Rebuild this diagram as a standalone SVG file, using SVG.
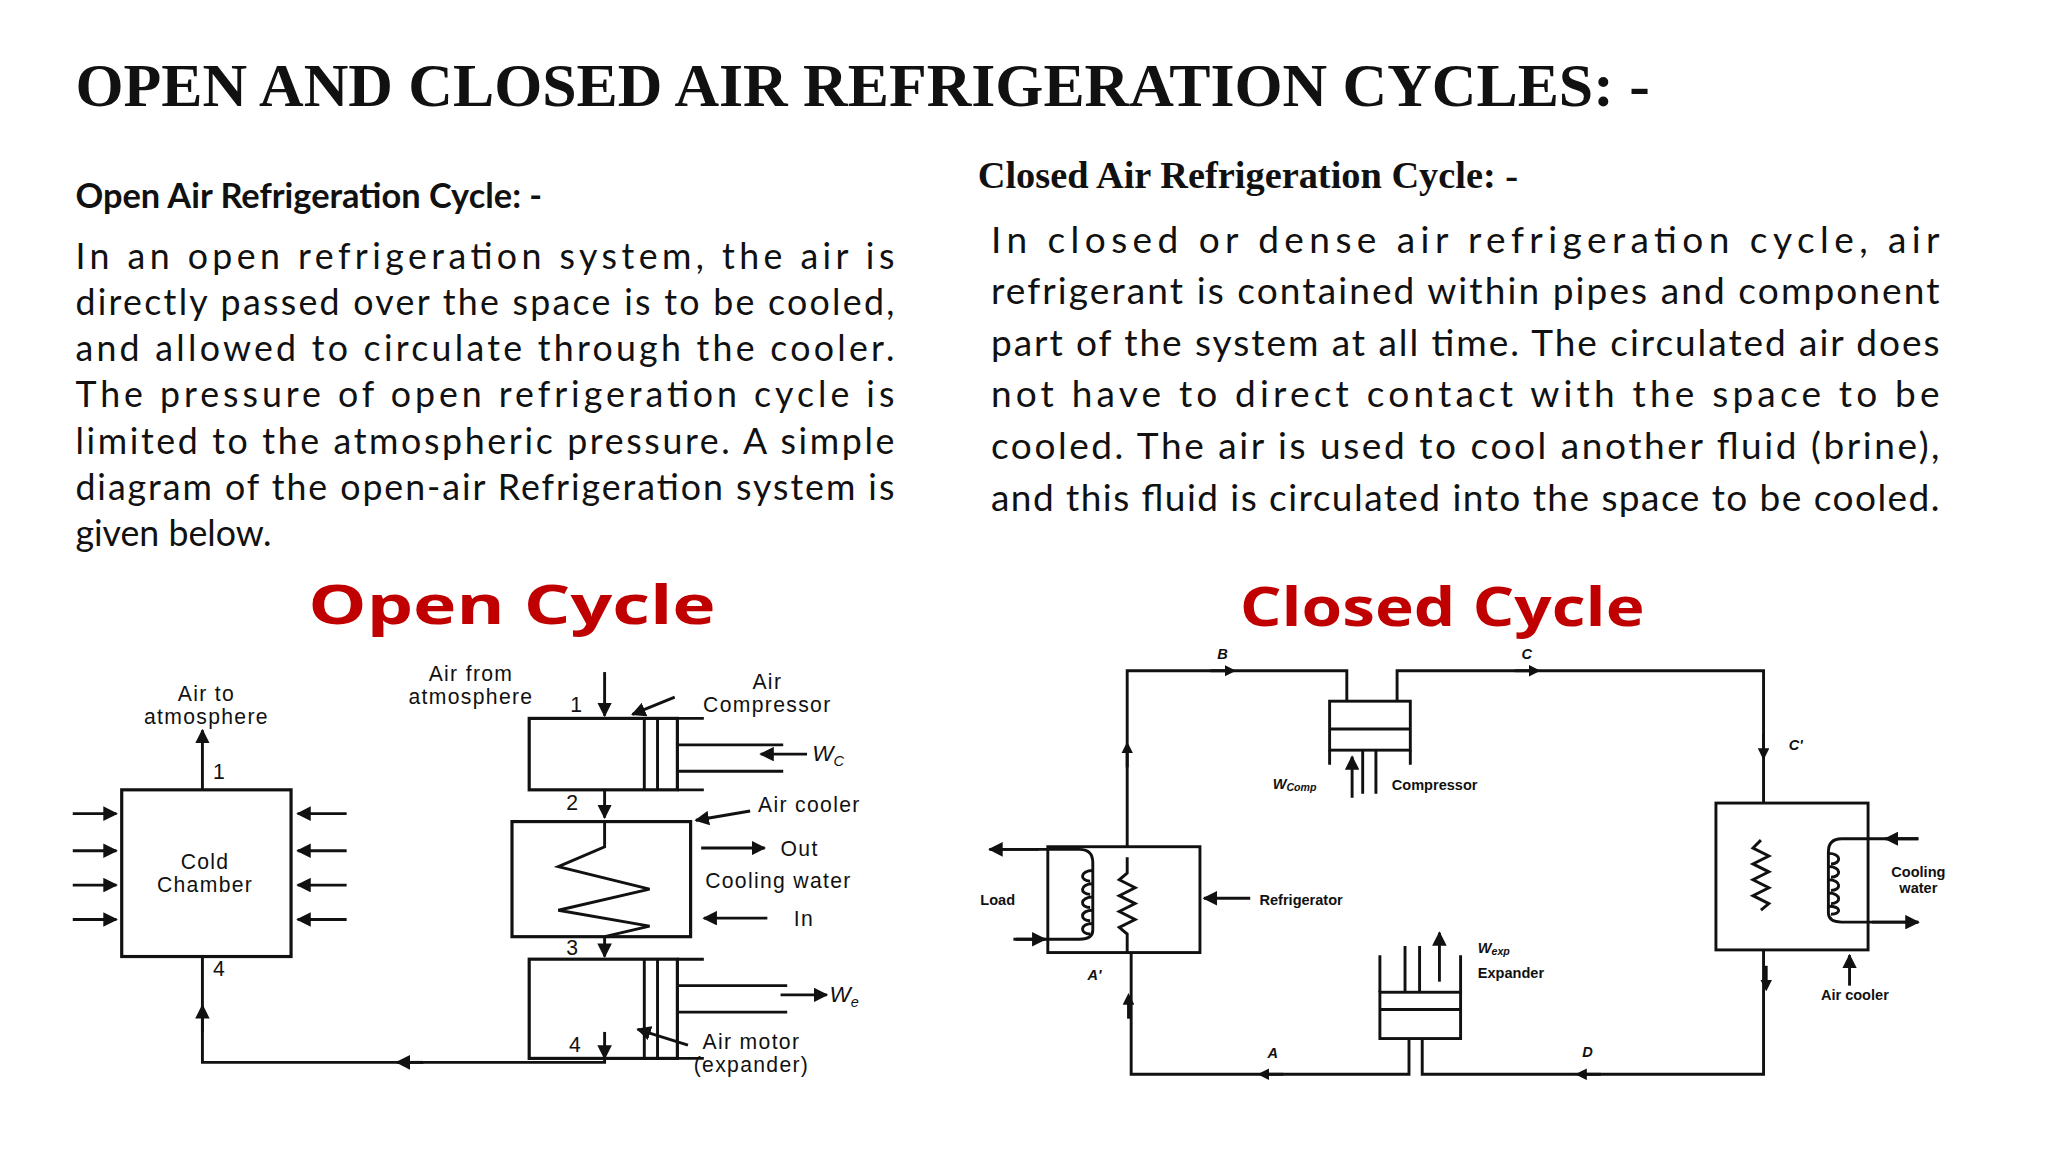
<svg xmlns="http://www.w3.org/2000/svg" width="2048" height="1152" viewBox="0 0 2048 1152">
<defs>
<style>
.ln{stroke:#111;stroke-width:2.2;fill:none}
.bx{stroke:#111;stroke-width:2.4;fill:none}
.t{font-family:"Liberation Sans",Arial,sans-serif;fill:#111}
.d{font-family:"Liberation Sans",Arial,sans-serif;font-size:16px;fill:#111;letter-spacing:1px}
.s{font-family:"Liberation Sans",Arial,sans-serif;font-size:11px;font-weight:bold;fill:#111}
.p{font-family:Lato,"Liberation Sans",sans-serif;font-size:27px;fill:#111}
.red{font-family:"Open Sans","Liberation Sans",sans-serif;font-weight:bold;fill:#c00000;font-size:40px}
</style>
<marker id="ah" viewBox="0 0 10 10" refX="9" refY="5" markerWidth="5" markerHeight="5" orient="auto"><path d="M0,0L10,5L0,10z" fill="#111"/></marker>
<marker id="mid" viewBox="0 0 10 10" refX="5" refY="5" markerWidth="4" markerHeight="4" orient="auto"><path d="M0,0L10,5L0,10z" fill="#111"/></marker>
</defs>
<rect width="2048" height="1152" fill="#fff"/>
<g transform="scale(1.323)">
<g id="texts">
<text x="57" y="80" font-family="Liberation Serif,serif" font-weight="bold" font-size="46" textLength="1190" lengthAdjust="spacingAndGlyphs" fill="#111">OPEN AND CLOSED AIR REFRIGERATION CYCLES: -</text>
<text x="57" y="157" font-family="Lato,Liberation Sans,sans-serif" font-weight="bold" font-size="26" fill="#111">Open Air Refrigeration Cycle: -</text>
<g class="p">
<text x="57" y="203" textLength="619">In an open refrigeration system, the air is</text>
<text x="57" y="238" textLength="619">directly passed over the space is to be cooled,</text>
<text x="57" y="273" textLength="619">and allowed to circulate through the cooler.</text>
<text x="57" y="308" textLength="619">The pressure of open refrigeration cycle is</text>
<text x="57" y="343" textLength="619">limited to the atmospheric pressure. A simple</text>
<text x="57" y="378" textLength="619">diagram of the open-air Refrigeration system is</text>
<text x="57" y="413">given below.</text>
</g>
<text x="739" y="142" font-family="Liberation Serif,serif" font-weight="bold" font-size="29" fill="#111">Closed Air Refrigeration Cycle: -</text>
<g class="p" style="font-size:28px">
<text x="749" y="191" textLength="717">In closed or dense air refrigeration cycle, air</text>
<text x="749" y="230" textLength="717">refrigerant is contained within pipes and component</text>
<text x="749" y="269" textLength="717">part of the system at all time. The circulated air does</text>
<text x="749" y="308" textLength="717">not have to direct contact with the space to be</text>
<text x="749" y="347" textLength="717">cooled. The air is used to cool another fluid (brine),</text>
<text x="749" y="386" textLength="717">and this fluid is circulated into the space to be cooled.</text>
</g>
<text class="red" x="233" y="472" textLength="308" lengthAdjust="spacingAndGlyphs">Open Cycle</text>
<text class="red" x="937" y="473" textLength="306" lengthAdjust="spacingAndGlyphs">Closed Cycle</text>
</g>

<g id="cold-chamber">
<rect class="bx" x="92" y="597" width="128" height="126"/>
<text class="d" x="155" y="657" text-anchor="middle">Cold</text>
<text class="d" x="155" y="674" text-anchor="middle">Chamber</text>
<text class="d" x="156" y="530" text-anchor="middle">Air to</text>
<text class="d" x="156" y="547" text-anchor="middle">atmosphere</text>
<text class="d" x="161" y="589">1</text>
<text class="d" x="161" y="738">4</text>
</g>
<g id="compressor-open">
<rect class="bx" x="400" y="543" width="112" height="54"/>
<path class="ln" d="M512,543H532M512,597H532M487,543V597M497,543V597M512,563H592M512,583H592"/>
<text class="d" x="356" y="515" text-anchor="middle">Air from</text>
<text class="d" x="356" y="532" text-anchor="middle">atmosphere</text>
<text class="d" x="431" y="538">1</text>
<text class="d" x="580" y="521" text-anchor="middle">Air</text>
<text class="d" x="580" y="538" text-anchor="middle">Compressor</text>
<text x="614" y="575" class="t" font-size="17" font-style="italic">W<tspan font-size="11" dy="4">C</tspan></text>
</g>
<g id="air-cooler-open">
<rect class="bx" x="387" y="621" width="135" height="87"/>
<path class="ln" d="M457,621V640L422,655L491,672L422,688L491,700L457,708"/>
<text class="d" x="573" y="614">Air cooler</text>
<text class="d" x="590" y="647">Out</text>
<text class="d" x="533" y="671">Cooling water</text>
<text class="d" x="600" y="700">In</text>
<text class="d" x="428" y="612">2</text>
<text class="d" x="428" y="722">3</text>
</g>
<g id="expander-open">
<rect class="bx" x="400" y="725" width="112" height="75"/>
<path class="ln" d="M512,725H532M512,800H532M487,725V800M497,725V800M512,745H595M512,765H595"/>
<text x="627" y="757" class="t" font-size="17" font-style="italic">W<tspan font-size="11" dy="4">e</tspan></text>
<text class="d" x="568" y="793" text-anchor="middle">Air motor</text>
<text class="d" x="568" y="810" text-anchor="middle">(expander)</text>
<text class="d" x="430" y="795">4</text>
</g>

<g id="comp-closed">
<rect class="ln" x="1005" y="530" width="61" height="37"/>
<path class="ln" d="M1005,551H1066M1005,567V578M1066,567V578M1030,567V600M1040,567V600"/>
<text x="962" y="596" class="s" font-style="italic">W<tspan font-size="8" dy="2">Comp</tspan></text>
<text class="s" x="1052" y="597">Compressor</text>
</g>
<g id="refrigerator">
<rect class="ln" x="792" y="640" width="115" height="80"/>
<path class="ln" d="M852,648V660L846,665L858,671L846,677L858,683L846,689L858,695L846,701L852,706V720"/>
<path class="ln" d="M748,642H816Q826,642 826,652V703Q826,710 816,710H768"/>
<path class="ln" d="M826,658c-10,0-10,8-2,8M826,668c-10,0-10,8-2,8M826,678c-10,0-10,8-2,8M826,688c-10,0-10,8-2,8M826,698c-10,0-10,8-2,8"/>
<text class="s" x="741" y="684">Load</text>
<text class="s" x="952" y="684">Refrigerator</text>
<text class="s" x="822" y="741" font-style="italic">A'</text>
</g>
<g id="air-cooler-closed">
<rect class="ln" x="1297" y="607" width="115" height="111"/>
<path class="ln" d="M1331,635L1325,641L1337,647L1325,653L1337,659L1325,665L1337,671L1325,677L1337,683L1331,688"/>
<path class="ln" d="M1450,634H1392Q1382,634 1382,644V690Q1382,697 1392,697H1450"/>
<path class="ln" d="M1382,645c10,0,10,8,2,8M1382,655c10,0,10,8,2,8M1382,665c10,0,10,8,2,8M1382,675c10,0,10,8,2,8M1382,685c10,0,10,6,2,6"/>
<text class="s" x="1450" y="663" text-anchor="middle">Cooling</text>
<text class="s" x="1450" y="675" text-anchor="middle">water</text>
<text class="s" x="1402" y="756" text-anchor="middle">Air cooler</text>
<text class="s" x="1352" y="567" font-style="italic">C'</text>
</g>
<g id="expander-closed">
<rect class="ln" x="1043" y="750" width="61" height="35"/>
<path class="ln" d="M1043,763H1104M1043,750V722M1104,750V722M1062,750V715M1073,750V715"/>
<text x="1117" y="720" class="s" font-style="italic">W<tspan font-size="8" dy="2">exp</tspan></text>
<text class="s" x="1117" y="739">Expander</text>
</g>
<g class="s" font-style="italic"><text x="920" y="498">B</text><text x="1150" y="498">C</text><text x="958" y="800">A</text><text x="1196" y="799">D</text></g>

<g id="connectors">
<path class="ln" d="M153,597V552" marker-end="url(#ah)"/>
<path class="ln" d="M457,800V803H153V723" />
<path class="ln" d="M153,780V760" marker-end="url(#ah)"/>
<path class="ln" d="M320,803H300" marker-end="url(#ah)"/>
<g class="ln" marker-end="url(#ah)">
<path d="M55,615H88"/><path d="M55,643H88"/><path d="M55,669H88"/><path d="M55,695H88"/>
<path d="M262,615H225"/><path d="M262,643H225"/><path d="M262,669H225"/><path d="M262,695H225"/>
<path d="M457,508V541"/><path d="M510,527L478,540"/>
<path d="M610,570H575"/>
<path d="M457,597V618"/><path d="M567,613L526,620"/>
<path d="M530,641H578"/><path d="M580,694H532"/>
<path d="M457,708V723"/>
<path d="M590,752H625"/>
<path d="M457,780V800"/><path d="M520,790L482,778"/>
</g>
<path class="ln" d="M852,640V507H1018V530M1056,530V507H1333V607M1333,718V812H1075V785M1065,785V812H855V720"/>
<g class="ln" marker-end="url(#mid)">
<path d="M915,507H930"/><path d="M1145,507H1160"/><path d="M852,580V565"/><path d="M1333,555V570"/>
<path d="M1335,730V745"/><path d="M1210,812H1195"/><path d="M970,812H955"/><path d="M853,770V755"/>
</g>
<g class="ln" marker-end="url(#ah)">
<path d="M1022,603V572"/><path d="M1088,742V705"/>
<path d="M785,642H748"/><path d="M766,710H790"/>
<path d="M945,679H910"/>
<path d="M1450,634H1425"/><path d="M1415,697H1450"/>
<path d="M1398,745V722"/>
</g>
</g>
</g>
</svg>
